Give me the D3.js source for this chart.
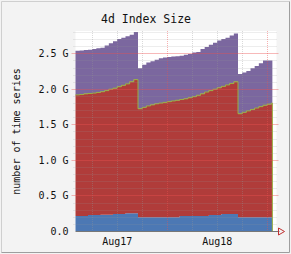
<!DOCTYPE html>
<html>
<head>
<meta charset="utf-8">
<script src="https://cdn.jsdelivr.net/npm/d3@7"></script>
<style>
  body { margin: 0; background: #f3f3f3; }
  svg { display: block; }
  text { font-family: "DejaVu Sans Mono", monospace; fill: #111; }
</style>
</head>
<body>
<div class="chart"></div>
<script>
// samples every hour from Aug17 02:07, last entry marks end of data
var hours = [0, 1, 2, 3, 4, 5, 6, 7, 8, 9, 10, 11, 12, 13, 14, 15, 16, 17, 18, 19,
  20, 21, 22, 23, 24, 25, 26, 27, 28, 29, 30, 31, 32, 33, 34, 35, 36, 37, 38, 39,
  40, 41, 42, 43, 44, 45, 46, 47, 47.25];

// stacked levels, in G series
var blueTop = [0.21, 0.21, 0.21, 0.225, 0.225, 0.225, 0.23, 0.23, 0.23, 0.24,
  0.24, 0.24, 0.25, 0.25, 0.25, 0.195, 0.195, 0.195, 0.195, 0.195,
  0.195, 0.195, 0.195, 0.195, 0.195, 0.21, 0.21, 0.21, 0.21, 0.21,
  0.21, 0.21, 0.225, 0.225, 0.225, 0.24, 0.24, 0.24, 0.24, 0.195,
  0.195, 0.195, 0.195, 0.195, 0.195, 0.195, 0.195, 0.195, 0];
var redTop = [1.915, 1.92, 1.93, 1.935, 1.94, 1.95, 1.96, 1.975, 1.995, 2.01,
  2.03, 2.05, 2.07, 2.10, 2.13, 1.72, 1.74, 1.76, 1.775, 1.79,
  1.80, 1.81, 1.82, 1.83, 1.84, 1.85, 1.86, 1.875, 1.89, 1.91,
  1.93, 1.955, 1.975, 1.995, 2.015, 2.035, 2.055, 2.075, 2.10, 1.65,
  1.67, 1.69, 1.71, 1.73, 1.75, 1.77, 1.785, 1.80, 0];
var purpleTop = [2.535, 2.54, 2.545, 2.55, 2.56, 2.57, 2.58, 2.61, 2.64, 2.67,
  2.70, 2.72, 2.74, 2.76, 2.80, 2.29, 2.34, 2.37, 2.39, 2.41,
  2.43, 2.44, 2.45, 2.455, 2.46, 2.465, 2.48, 2.49, 2.51, 2.52,
  2.56, 2.59, 2.62, 2.65, 2.68, 2.70, 2.72, 2.75, 2.78, 2.21,
  2.23, 2.25, 2.29, 2.32, 2.36, 2.40, 2.40, 2.40, 0];

var yTicks = [0, 0.5, 1.0, 1.5, 2.0, 2.5];
var yTickLabels = ["0.0", "0.5 G", "1.0 G", "1.5 G", "2.0 G", "2.5 G"];
var xLabelDays = ["Aug17", "Aug18"];

var width = 291, height = 254;
var plot = { left: 75.5, right: 275.5, top: 32, bottom: 231 };

var start = new Date(2017, 7, 17, 2, 7);
function hourDate(h) { return new Date(start.getTime() + h * 3600e3); }

var svg = d3.select(".chart").append("svg")
  .attr("width", width).attr("height", height);

// frame
svg.append("rect").attr("x", 0).attr("y", 0).attr("width", width).attr("height", height)
  .attr("fill", "#f3f3f3");
svg.append("path").attr("d", "M1.5,252.5 V1.5 H289.5").attr("fill", "none").attr("stroke", "#cfcfcf");
svg.append("path").attr("d", "M1.5,252.5 H289.5 V1.5").attr("fill", "none").attr("stroke", "#9e9e9e");

var x = d3.scaleTime()
  .domain([start, hourDate(48)])
  .range([plot.left, plot.right]);
var y = d3.scaleLinear().domain([0, 2.8]).range([plot.bottom, plot.top]);

svg.append("rect")
  .attr("x", plot.left).attr("y", 31)
  .attr("width", plot.right - plot.left + 1).attr("height", plot.bottom - 31)
  .attr("fill", "#fff");

var data = hours.map(function (h, i) {
  return { t: hourDate(h), b: blueTop[i], r: redTop[i], p: purpleTop[i] };
});

function band(lo, hi) {
  return d3.area().curve(d3.curveStepAfter)
    .x(function (d) { return x(d.t); })
    .y0(function (d) { return lo ? y(d[lo]) : y(0); })
    .y1(function (d) { return y(d[hi]); });
}

svg.append("path").datum(data).attr("d", band(null, "b")).attr("fill", "#4c78b4");
svg.append("path").datum(data).attr("d", band("b", "r")).attr("fill", "#b03c3a");
svg.append("path").datum(data).attr("d", band("r", "p")).attr("fill", "#7b679f");

svg.append("path").datum(data)
  .attr("d", d3.line().curve(d3.curveStepAfter)
    .x(function (d) { return x(d.t); })
    .y(function (d) { return y(d.r); }))
  .attr("fill", "none").attr("stroke", "#98b040").attr("stroke-width", 1);

// grid (drawn over the areas)
var minorY = d3.range(0.1, 2.81, 0.1).filter(function (v) {
  return Math.abs(v * 2 - Math.round(v * 2)) > 0.01;
});
svg.append("g").selectAll("line").data(minorY).enter().append("line")
  .attr("x1", plot.left - 2).attr("x2", plot.right + 1)
  .attr("y1", function (d) { return Math.round(y(d)) + 0.5; })
  .attr("y2", function (d) { return Math.round(y(d)) + 0.5; })
  .attr("stroke", "rgba(150,150,150,0.35)").attr("stroke-dasharray", "1,1");

var minorX = d3.timeHour.every(6).range(start, hourDate(48)).filter(function (d) {
  return d.getHours() !== 0;
});
svg.append("g").selectAll("line").data(minorX).enter().append("line")
  .attr("x1", function (d) { return Math.round(x(d)) + 0.5; })
  .attr("x2", function (d) { return Math.round(x(d)) + 0.5; })
  .attr("y1", 31).attr("y2", plot.bottom + 2)
  .attr("stroke", "rgba(150,150,150,0.35)").attr("stroke-dasharray", "1,1");

var majorX = d3.timeDay.range(start, hourDate(48));
svg.append("g").selectAll("line").data(majorX).enter().append("line")
  .attr("x1", function (d) { return Math.round(x(d)) + 0.5; })
  .attr("x2", function (d) { return Math.round(x(d)) + 0.5; })
  .attr("y1", 31).attr("y2", plot.bottom + 2)
  .attr("stroke", "rgba(235,80,80,0.45)").attr("stroke-dasharray", "1,1");

svg.append("g").selectAll("line").data(yTicks.slice(1)).enter().append("line")
  .attr("x1", plot.left - 4).attr("x2", plot.right + 3)
  .attr("y1", function (d) { return Math.round(y(d)) + 0.5; })
  .attr("y2", function (d) { return Math.round(y(d)) + 0.5; })
  .attr("stroke", "rgba(235,80,80,0.4)");

// axes
var yAxis = svg.append("g")
  .attr("transform", "translate(" + (plot.left - 7) + ",0)")
  .call(d3.axisLeft(y).tickValues(yTicks).tickSize(0)
    .tickFormat(function (d, i) { return yTickLabels[i]; }));
yAxis.select(".domain").remove();
yAxis.selectAll("text").attr("font-size", 10).attr("dy", "0.35em").attr("x", 0);

var noon = xLabelDays.map(function (d, i) { return d3.timeHour.offset(d3.timeDay.floor(start), 12 + 24 * i); });
var xAxis = svg.append("g")
  .attr("transform", "translate(0," + plot.bottom + ")")
  .call(d3.axisBottom(x).tickValues(noon).tickSize(0)
    .tickFormat(function (d, i) { return xLabelDays[i]; }));
xAxis.select(".domain").remove();
xAxis.selectAll("text").attr("font-size", 10).attr("y", 7);

svg.append("line")
  .attr("x1", plot.left).attr("x2", plot.right + 4)
  .attr("y1", plot.bottom + 0.5).attr("y2", plot.bottom + 0.5)
  .attr("stroke", "#777");
svg.append("path")
  .attr("d", "M278.5,228 L284.5,231.5 L278.5,235 Z")
  .attr("fill", "none").attr("stroke", "#c03030");

svg.append("text")
  .attr("x", 146).attr("y", 23)
  .attr("text-anchor", "middle").attr("font-size", 11.5)
  .text("4d Index Size");

svg.append("text")
  .attr("transform", "translate(20," + (plot.top + plot.bottom) / 2 + ") rotate(-90)")
  .attr("text-anchor", "middle").attr("font-size", 10)
  .text("number of time series");
</script>
</body>
</html>
